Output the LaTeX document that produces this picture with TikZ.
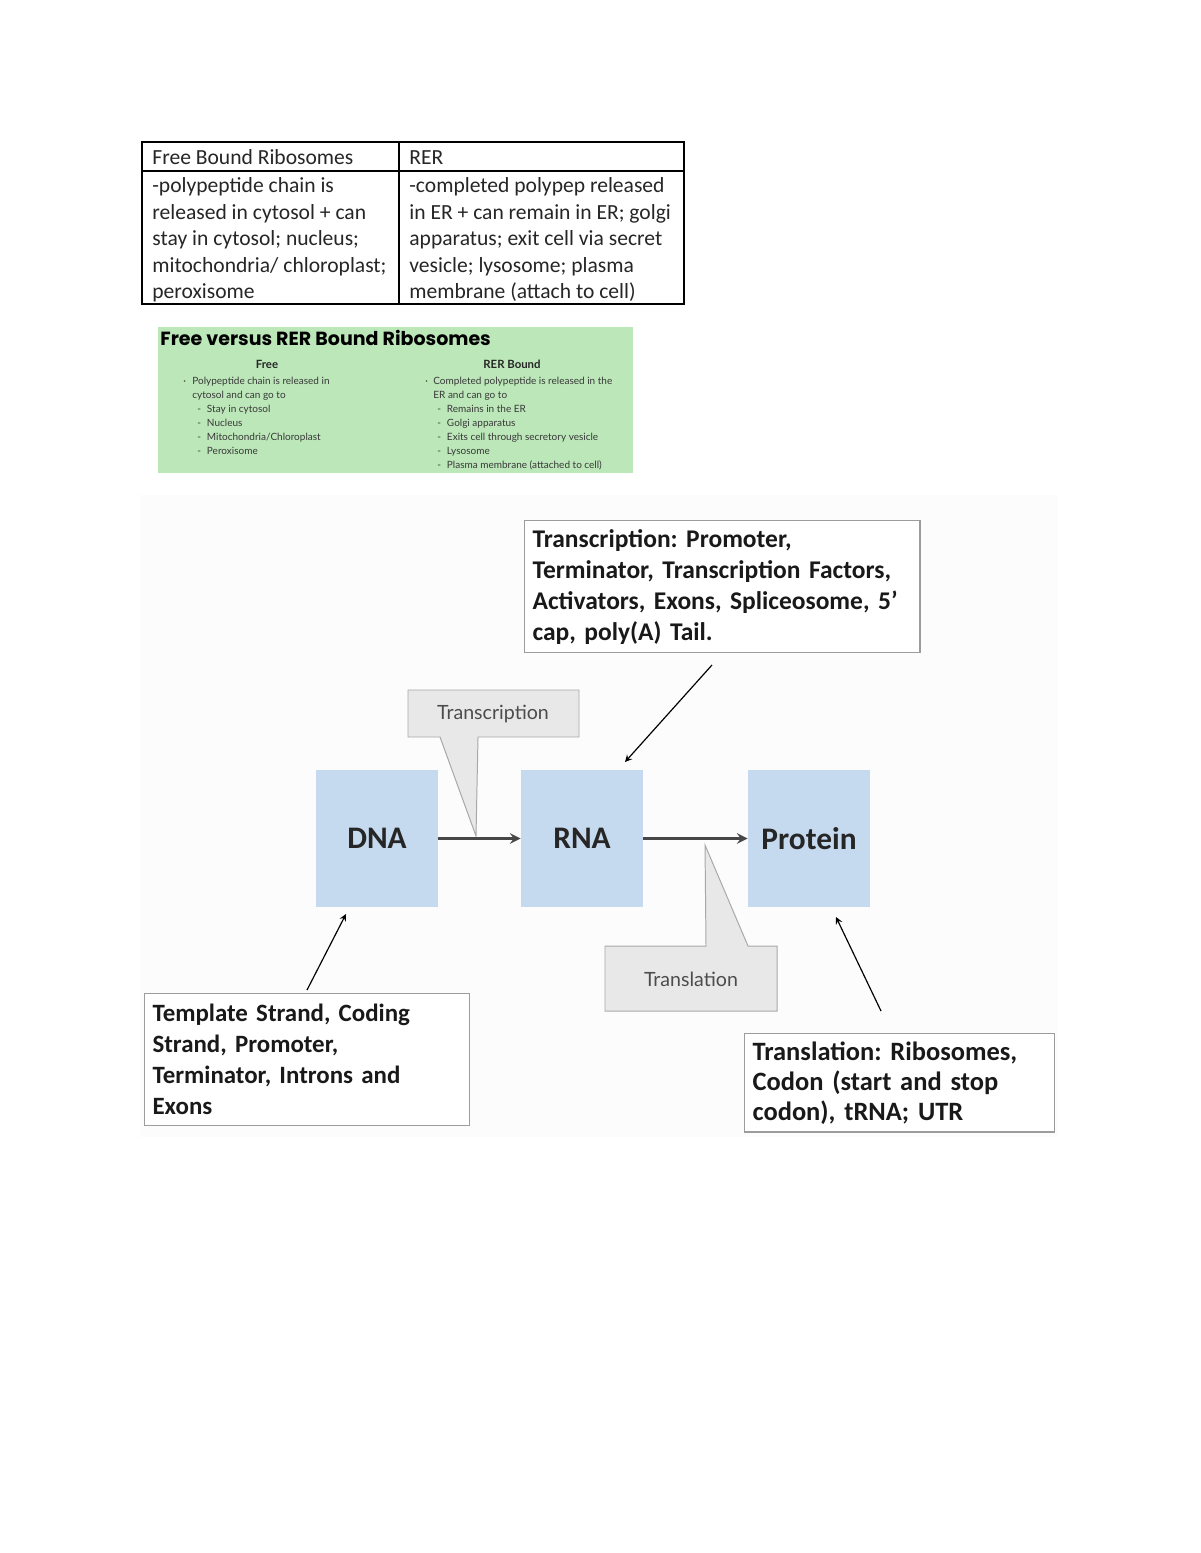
\documentclass[tikz,border=0pt]{standalone}
\usepackage{fontspec}
\setmainfont{Carlito}
\newfontfamily\slidefont{Lato}
\newfontfamily\titlefont{Poppins}
\usetikzlibrary{arrows,positioning}
\definecolor{geneblue}{HTML}{C6DAEF}
\definecolor{slidegreen}{HTML}{BCE7B9}
\definecolor{calloutfill}{HTML}{E8E8E8}
\definecolor{calloutline}{HTML}{A8A8A8}
\definecolor{notegray}{HTML}{9C9C9C}
\frenchspacing

\begin{document}
\begin{tikzpicture}[x=0.51pt, y=-0.51pt,
  cell/.style={anchor=north west, inner sep=0pt, align=left, font=\fontsize{11}{13.5}\selectfont, text=black!85},
  slidetxt/.style={anchor=base west, inner sep=0pt, font=\slidefont\fontsize{5.1}{6}\selectfont, text=black!78},
  gene/.style={fill=geneblue, minimum width=62.2pt, minimum height=69.9pt, font=\bfseries\fontsize{16}{18}\selectfont, text=black!85},
  notebox/.style={draw=notegray, line width=0.75pt, fill=white, anchor=north west, align=left, inner xsep=4pt, font=\bfseries\fontsize{13}{15.8}\selectfont, text=black!90},
  callout/.style={fill=calloutfill, draw=calloutline, line width=0.5pt},
  callouttxt/.style={font=\slidefont\fontsize{10}{12}\selectfont, text=black!70},
  flow/.style={->, >=stealth, line width=1.4pt, draw=black!72},
  pointer/.style={->, >=stealth, line width=0.6pt}]
  \useasboundingbox[fill=white] (0,0) rectangle (1200,1553);

  % table
  \draw[line width=0.75pt] (142,142) rectangle (684,304);
  \draw[line width=0.75pt] (142,171) -- (684,171);
  \draw[line width=0.75pt] (399,142) -- (399,304);
  \node[cell] (freeHead) at (152,146) {\strut Free Bound Ribosomes};
  \node[cell] (rerHead) at (409,146) {\strut RER};
  \node[cell] (freeBody) at (152,174) {\strut -polypeptide chain is\\ released in cytosol + can\\ stay in cytosol; nucleus;\\ mitochondria/ chloroplast;\\ peroxisome};
  \node[cell] (rerBody) at (409,174) {\strut -completed polypep released\\ in ER + can remain in ER; golgi\\ apparatus; exit cell via secret\\ vesicle; lysosome; plasma\\ membrane (attach to cell)};

  % slide
  \fill[slidegreen] (158,327) rectangle (633,473);
  \node[anchor=base west, inner sep=0pt, font=\titlefont\bfseries\fontsize{9.7}{11}\selectfont] (slideTitle) at (160,345) {Free versus RER Bound Ribosomes};
  \node[anchor=base, inner sep=0pt, font=\slidefont\bfseries\fontsize{5.8}{7}\selectfont, text=black!85] (freeCol) at (267,368) {Free};
  \node[anchor=base, inner sep=0pt, font=\slidefont\bfseries\fontsize{5.8}{7}\selectfont, text=black!85] (rerCol) at (512,368) {RER Bound};
  \node[slidetxt] (freeDot) at (183,384) {·};
  \node[slidetxt] (freeLead) at (192,384) {Polypeptide chain is released in};
  \node[slidetxt] (freeLead2) at (192,398) {cytosol and can go to};
  \foreach \organelle [count=\i] in {Stay in cytosol, Nucleus, Mitochondria/Chloroplast, Peroxisome}
    \node[slidetxt] (freeItem\i) at (197,398+14*\i) {-\hspace{3pt}\organelle};
  \node[slidetxt] (rerDot) at (425,384) {·};
  \node[slidetxt] (rerLead) at (433,384) {Completed polypeptide is released in the};
  \node[slidetxt] (rerLead2) at (433,398) {ER and can go to};
  \foreach \organelle [count=\i] in {Remains in the ER, Golgi apparatus, Exits cell through secretory vesicle, Lysosome, Plasma membrane (attached to cell)}
    \node[slidetxt] (rerItem\i) at (437,398+14*\i) {-\hspace{3pt}\organelle};

  % cursor
  \filldraw[fill=black, draw=white, line width=0.2pt] (410,498) -- (410,511) -- (413,508) -- (416,514) -- (418,513) -- (415,507) -- (419,507) -- cycle;

  % dogma diagram
  \fill[gray!2] (140,495) rectangle (1058,1137);
  \node[gene] (dna) at (377,838.5) {DNA};
  \node[gene] (rna) at (582,838.5) {RNA};
  \node[gene] (protein) at (809,838.5) {Protein};

  \draw[callout] (408,690) -- (579,690) -- (579,737) -- (478,737) -- (476,836) -- (440,737) -- (408,737) -- cycle;
  \node[callouttxt] (trxLabel) at (493,714) {Transcription};
  \draw[callout] (605,946) -- (706,946) -- (705,845) -- (748,946) -- (777,946) -- (777,1011) -- (605,1011) -- cycle;
  \node[callouttxt] (trlLabel) at (691,979) {Translation};

  \draw[flow] (dna) -- (rna);
  \draw[flow] (rna) -- (protein);

  \node[notebox, text width=193.5pt, minimum height=67.3pt] (trxNote) at (524,520) {Transcription: Promoter,\\ Terminator, Transcription Factors,\\ Activators, Exons, Spliceosome, 5’\\ cap, poly(A) Tail.};
  \node[notebox, text width=157.75pt, minimum height=67.3pt, font=\bfseries\fontsize{12.7}{15.8}\selectfont] (dnaNote) at (144,993) {Template Strand, Coding\\ Strand, Promoter,\\ Terminator, Introns and\\ Exons};
  \node[notebox, text width=150.1pt, minimum height=50pt, font=\bfseries\fontsize{13.5}{15.3}\selectfont] (trlNote) at (744,1033) {Translation: Ribosomes,\\ Codon (start and stop\\ codon), tRNA; UTR};

  \coordinate (trxFrom) at (712,665);
  \coordinate (trxTo) at (625,762);
  \coordinate (dnaFrom) at (307,990);
  \coordinate (dnaTo) at (346,914);
  \coordinate (trlFrom) at (881,1011);
  \coordinate (trlTo) at (836,917);
  \draw[pointer] (trxFrom) -- (trxTo);
  \draw[pointer] (dnaFrom) -- (dnaTo);
  \draw[pointer] (trlFrom) -- (trlTo);
\end{tikzpicture}
\end{document}
